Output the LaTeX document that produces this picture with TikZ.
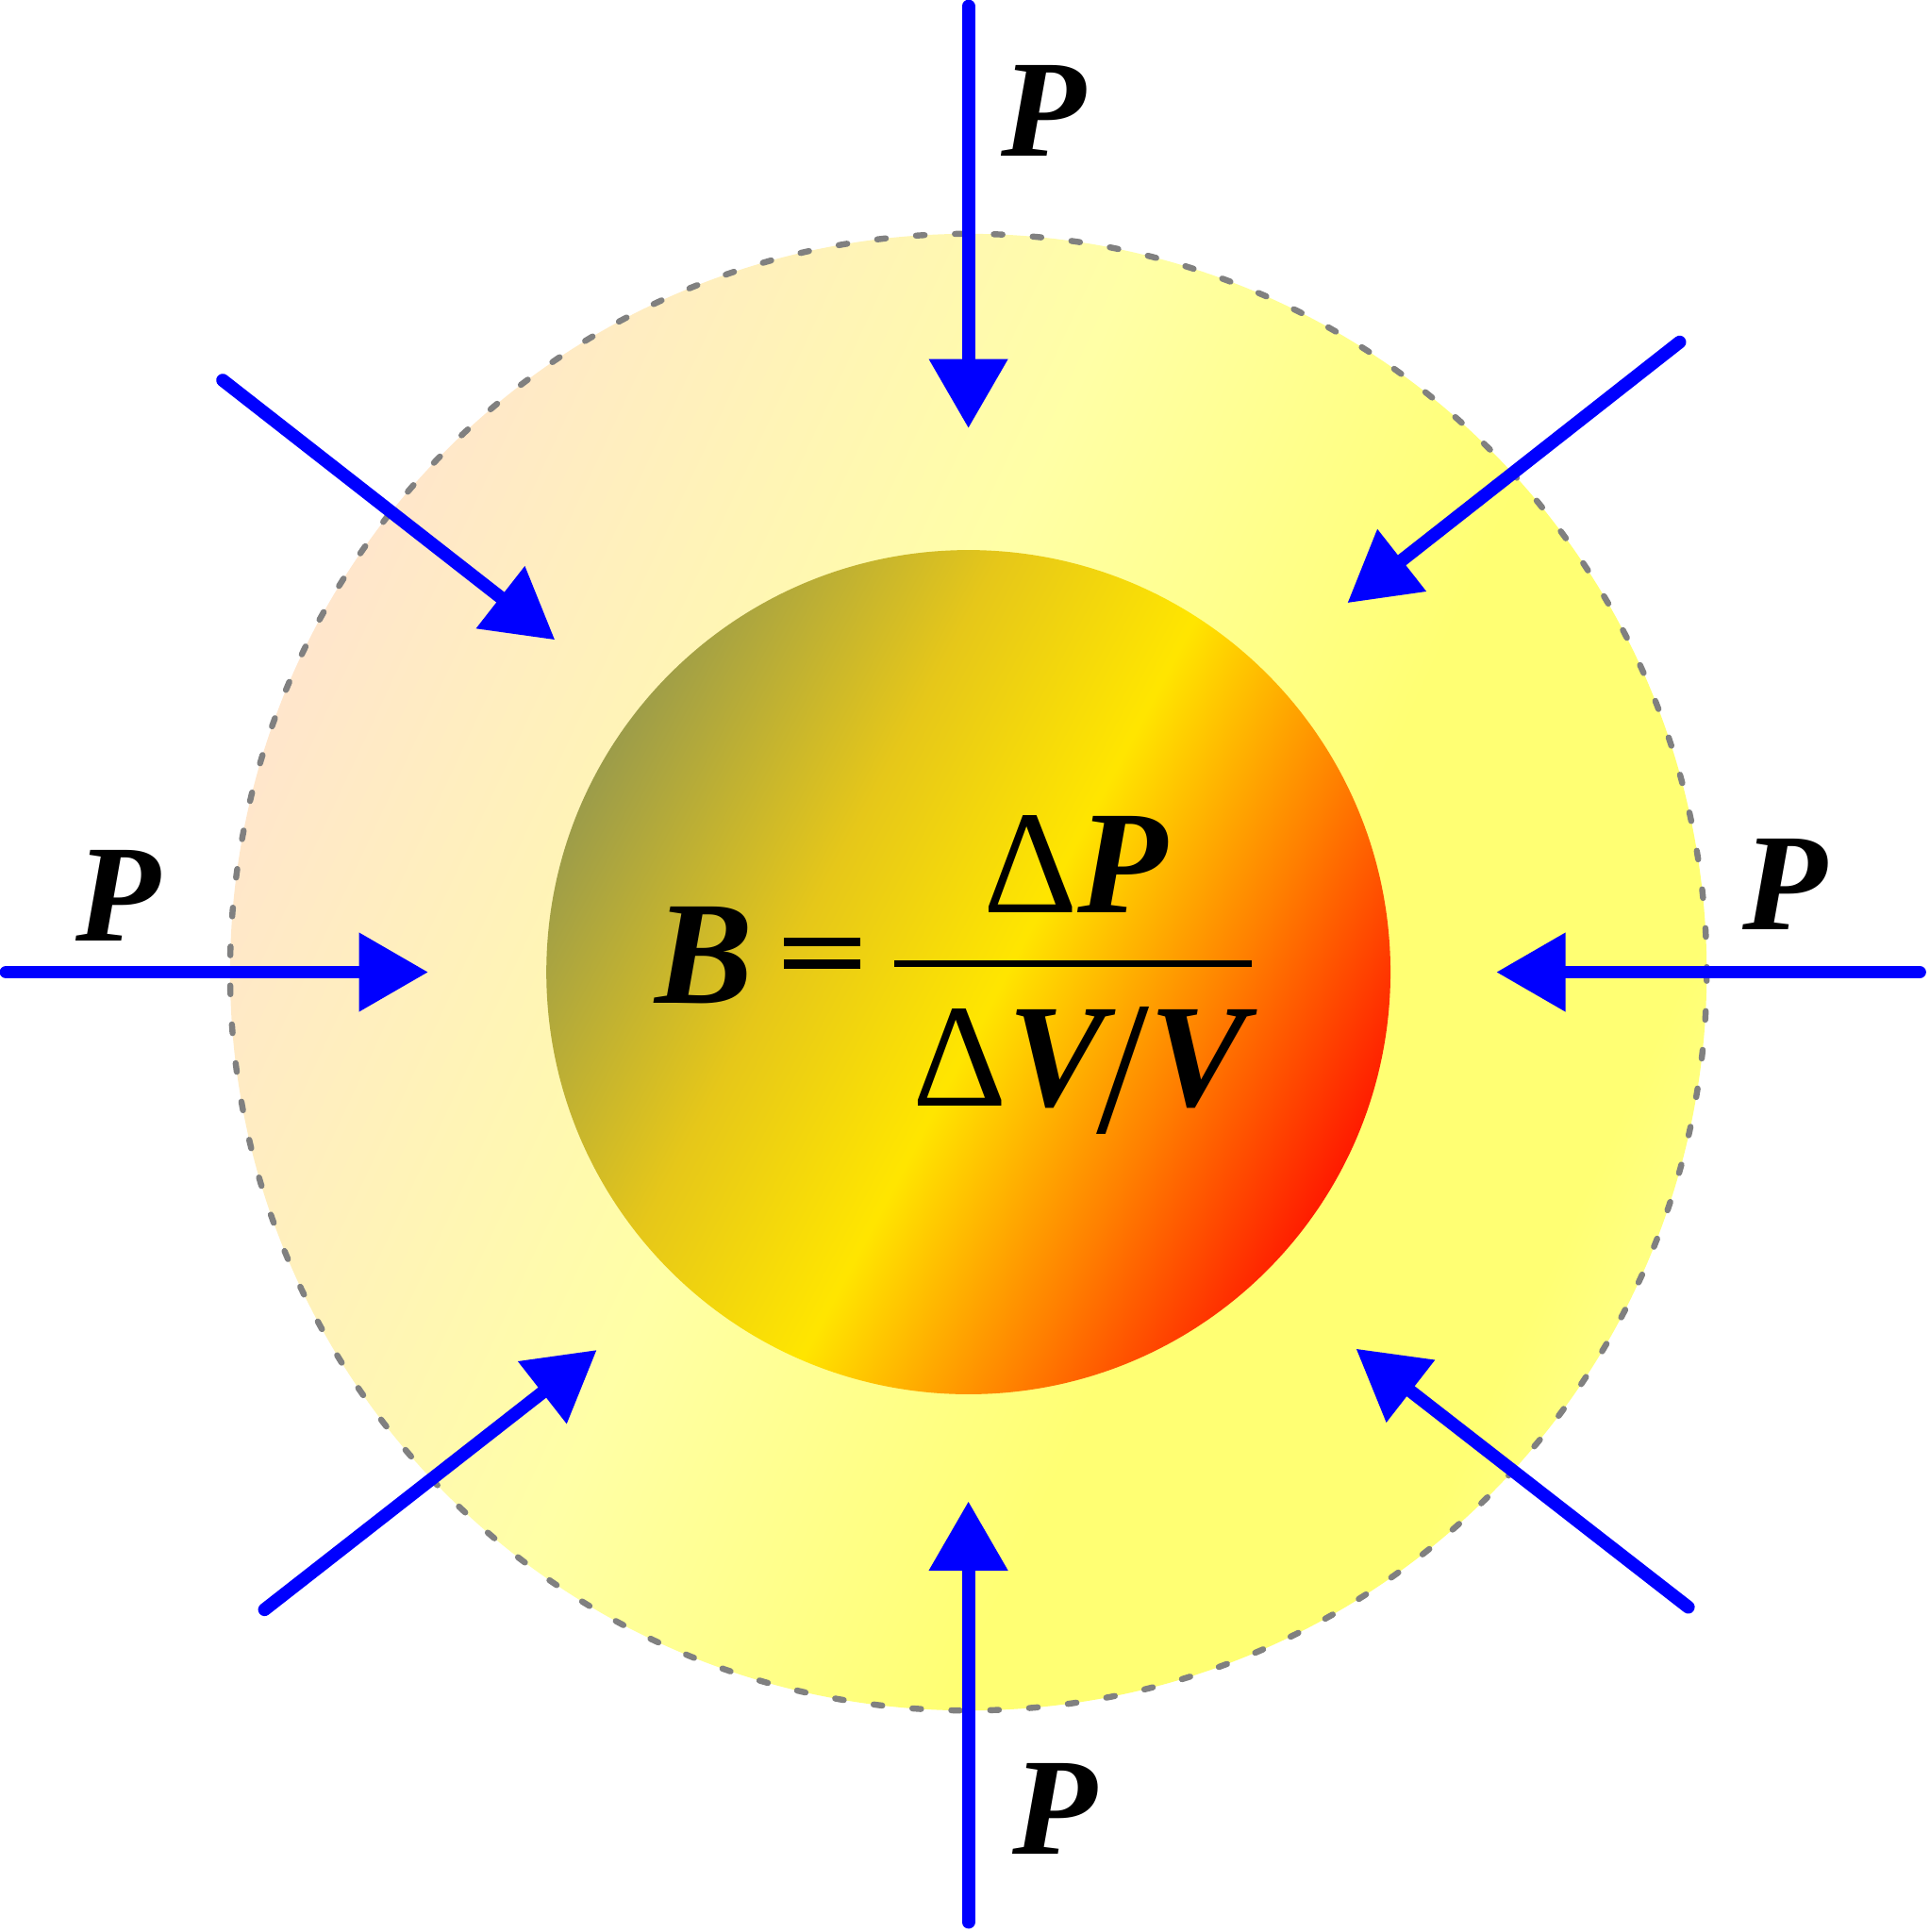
\documentclass[tikz,border=0pt]{standalone}
\usepackage{fontspec}
\setmainfont{Liberation Serif}
\usetikzlibrary{arrows.meta, calc}
\pgfdeclarehorizontalshading{innerball}{100bp}{color(0bp)=(gray!90!olive); color(25bp)=(gray!75!yellow!90!olive); color(40bp)=(yellow!70!orange!80!gray); color(52bp)=(yellow!80!orange); color(64bp)=(orange); color(78bp)=(red); color(100bp)=(red)}
\pgfdeclarehorizontalshading{outerball}{100bp}{color(0bp)=(red!30!orange!25!white); color(25bp)=(orange!20!white); color(45bp)=(yellow!35!white); color(60bp)=(yellow!55!white); color(72bp)=(yellow!55!white); color(100bp)=(white)}
\tikzset{
  press/.style={blue, line width=3pt, line cap=round, -{Triangle[width=17.5pt, length=16pt]}},
  plabel/.style={font=\fontsize{32}{32}\selectfont\bfseries\itshape},
  big/.style={font=\fontsize{34}{34}\selectfont\bfseries\itshape, inner sep=0pt},
}
\begin{document}
\begin{tikzpicture}[x=0.01cm, y=-0.01cm]
    \useasboundingbox (0,0) rectangle (1568,1570);
    \coordinate (c) at (787,790);
    \shade[shading=outerball, shading angle=-25] (c) circle (600);
    \draw[gray, line width=1.4pt, dash pattern=on 2pt off 7pt, line cap=round] (c) circle (600);
    \shade[shading=innerball, shading angle=-28] (c) circle (343);
    
    \coordinate (t0) at (787,5);    \coordinate (t1) at (787,348);
    \coordinate (l0) at (5,790);    \coordinate (l1) at (348,790);
    \coordinate (r0) at (1560,790); \coordinate (r1) at (1216,790);
    \coordinate (b0) at (787,1562); \coordinate (b1) at (787,1220);
    \coordinate (ul0) at (181,309); \coordinate (ul1) at (451,520);
    \coordinate (ur0) at (1365,278); \coordinate (ur1) at (1095,490);
    \coordinate (ll0) at (215,1308); \coordinate (ll1) at (485,1097);
    \coordinate (lr0) at (1372,1306); \coordinate (lr1) at (1102,1096);
    \foreach \a in {t,l,r,b,ul,ur,ll,lr}
        \draw[press] (\a0) -- (\a1);
    
    \node[plabel] (pt) at (848,90) {P};
    \node[plabel] (pl) at (96,728) {P};
    \node[plabel] (pr) at (1451,719) {P};
    \node[plabel] (pb) at (857,1470) {P};
    
    % B = dP / (dV/V)
    \node[big] (bk) at (572,776) {B};
    \fill (637,762) rectangle (699,769);
    \fill (637,780) rectangle (699,787);
    \draw[line width=1.6pt] (727,783) -- (1017,783);
    \node[big] (num) at (874,702) {{\upshape\mdseries Δ}P};
    \node[big] (den) at (878,870) {{\upshape\mdseries Δ}V\kern-2pt\raisebox{-6pt}{\upshape\mdseries\fontsize{44}{44}\selectfont/}V};
\end{tikzpicture}
\end{document}
